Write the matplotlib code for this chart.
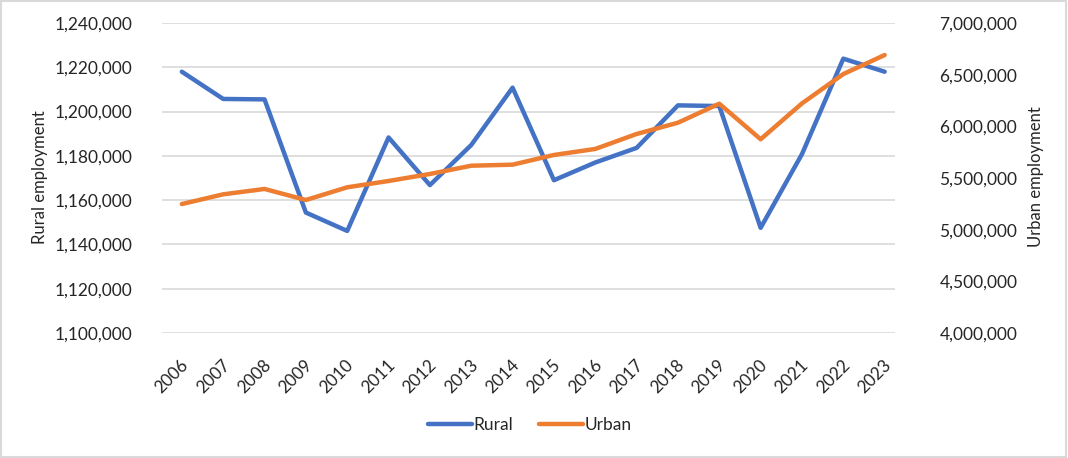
import matplotlib
matplotlib.use("Agg")
import matplotlib.pyplot as plt
import matplotlib.transforms as mtrans
from matplotlib.ticker import FuncFormatter
import numpy as np

years = [str(y) for y in range(2006, 2024)]
rural = [1218000, 1205700, 1205500, 1154400, 1146100, 1188300, 1166800, 1184900, 1210800,
         1169000, 1177000, 1183600, 1202800, 1202500, 1147500, 1180800, 1223900, 1218000]
urban = [5248000, 5342000, 5394000, 5287000, 5410000, 5471000, 5539000, 5619000, 5629000,
         5723000, 5781000, 5926000, 6035000, 6219000, 5875000, 6222000, 6506000, 6690000]

plt.rcParams["font.family"] = ["Lato", "DejaVu Sans"]
blue = "#4472C4"
orange = "#ED7D31"
txt = "#262626"

fig = plt.figure(figsize=(10.68, 4.58), dpi=100)
ax = fig.add_axes([162/1068, 125/458, 733/1068, 310/458])
ax2 = ax.twinx()

x = np.arange(len(years))
l1, = ax.plot(x, rural, color=blue, lw=3.2, solid_capstyle="round", solid_joinstyle="round", label="Rural", zorder=3)
l2, = ax2.plot(x, urban, color=orange, lw=3.2, solid_capstyle="round", solid_joinstyle="round", label="Urban", zorder=3)

ax.set_xlim(-0.48, 17.25)
ax.set_ylim(1100000, 1240000)
ax.set_yticks(np.arange(1100000, 1240001, 20000))
ax2.set_ylim(4000000, 7000000)
ax2.set_yticks(np.arange(4000000, 7000001, 500000))
fmt = FuncFormatter(lambda v, p: f"{int(v):,}")
ax.yaxis.set_major_formatter(fmt)
ax2.yaxis.set_major_formatter(fmt)

ax.grid(axis="y", color="#d9d9d9", lw=1.2, zorder=0)
ax.set_axisbelow(True)
for a in (ax, ax2):
    for s in a.spines.values():
        s.set_visible(False)
    a.tick_params(length=0, colors=txt, labelsize=12.5)

ax.tick_params(axis="y", pad=21)
ax2.tick_params(axis="y", pad=32)
ax.set_xticks(x)
ax.set_xticklabels(years, rotation=45, ha="right", va="center", rotation_mode="anchor", fontsize=12.3)
ax.tick_params(axis="x", pad=21)
offset = mtrans.ScaledTranslation(4/100, 0, fig.dpi_scale_trans)
for lab in ax.get_xticklabels():
    lab.set_transform(lab.get_transform() + offset)

# axis titles
fig.text(40/1068, 1 - 177/458, "Rural employment", rotation=90, ha="center", va="center", fontsize=12, color=txt)
fig.text(1036/1068, 1 - 177/458, "Urban employment", rotation=90, ha="center", va="center", fontsize=12, color=txt)

fig.legend(handles=[l1, l2], loc="center", bbox_to_anchor=(530/1068, 1 - 425/458), ncol=2, frameon=False,
           fontsize=12.5, handlelength=2.5, handletextpad=0.1, columnspacing=1.5, labelcolor=txt)

fig.patches.append(plt.Rectangle((0.001, 0.002), 0.997, 0.995, transform=fig.transFigure,
                                 fill=False, edgecolor="#d9d9d9", lw=1.5))

fig.savefig("out.png", dpi=100)
